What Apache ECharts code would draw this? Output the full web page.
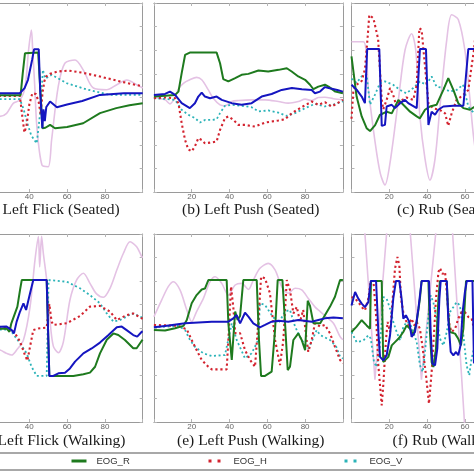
<!DOCTYPE html>
<html><head><meta charset="utf-8">
<script src="https://cdn.jsdelivr.net/npm/echarts@6/dist/echarts.min.js"></script>
<style>
html,body{margin:0;padding:0;background:#fff;overflow:hidden;width:474px;height:474px;position:relative}
#c{position:absolute;left:-60px;top:0;width:660px;height:474px}
</style>
</head><body><div id="c"></div>
<script>
// ---------- DATA ----------
const titles = ['(a) Left Flick (Seated)','(b) Left Push (Seated)','(c) Rub (Seated)',
                '(d) Left Flick (Walking)','(e) Left Push (Walking)','(f) Rub (Walking)'];
const xTickLabels = [20, 40, 60, 80];
const legendNames = ['EOG_R', 'EOG_H', 'EOG_V'];

// (a) Left Flick (Seated)
const aR = [[0,0.1],[35.4,0.1],[36.5,1.0],[37.7,1.87],[44.7,1.9],[45.5,0.8],[47,-1.3],[48.5,-1.28],[51,-1.16],[53.6,-1.3],[60,-1.25],[68.5,-1.09],[77.4,-0.66],[86,-0.45],[93,-0.33],[100,-0.24]];
const aL = [[0,0.18],[35,0.18],[35.5,0.1],[37.5,0.4],[39.3,0.75],[41.5,1.6],[42.5,2.04],[45,2.04],[45.8,0.2],[46.9,-1.3],[47.5,-0.5],[48.2,-1.0],[49,-0.4],[51,-0.17],[54.6,-0.41],[60,-0.3],[68,-0.15],[77.4,0.11],[90,0.18],[100,0.18]];
const aH = [[0,0.07],[35,0.07],[36,-0.6],[37.4,-1.48],[38.5,-1.2],[40,-0.3],[41.6,0.18],[43.5,0.15],[45,-0.2],[46,-0.7],[47,0.2],[48,0.7],[49,0.89],[51,1.0],[55,1.1],[60.8,1.14],[68,1.05],[77.4,0.89],[88,0.68],[100,0.47]];
const aV = [[0,-0.07],[35,-0.07],[37,-0.5],[39,-1.1],[41,-1.6],[43.9,-1.94],[45,-1.2],[46,-0.4],[47.2,1.17],[48.5,0.8],[51.8,0.96],[60,0.6],[70,0.35],[82.7,0.11],[100,0.11]];
const aP = [[0,-0.2],[10,0],[20,-0.6],[24.5,-0.8],[28,-0.67],[31.6,-0.24],[35.1,-0.1],[37.8,0.46],[39.6,2.0],[41.1,2.86],[41.8,2.0],[42.9,0.46],[44,-1.23],[46.7,-2.86],[50,-2.93],[51.8,-1.8],[55.3,0.46],[58.8,1.45],[64.2,1.59],[68.5,1.17],[73.9,0.4],[80.9,0.33],[86.3,0.54],[91.6,0.74],[96.9,0.54],[100,0.4]];

// (b) Left Push (Seated)
const bR = [[0,0.04],[5.9,0.07],[11.2,0.11],[13,0.25],[14.7,1.03],[16.5,1.8],[19,1.9],[33.2,1.9],[35,1.45],[36.7,0.78],[39.4,0.68],[43,0.82],[46.4,0.96],[50,1.0],[55.3,1.14],[60.5,1.1],[66,1.17],[70.3,1.24],[72.9,1.1],[76.4,0.89],[80,0.75],[82.6,0.54],[84.4,0.35],[87,0.46],[90.5,0.54],[92.4,0.46],[96,0.25],[100,0.18]];
const bL = [[0,0.11],[5.9,0.15],[8.5,0.25],[11.2,0.11],[14.7,-0.24],[19,-0.45],[21.7,-0.24],[23.5,0.04],[25.3,0.21],[27,0.04],[29.7,-0.03],[33.2,0.04],[35.9,-0.1],[41.2,-0.24],[46.4,-0.31],[51.7,-0.24],[57,0.04],[62.3,0.15],[67.6,0.32],[73,0.4],[78.3,0.35],[83.5,0.32],[85.2,0.18],[87.9,0.25],[90.5,0.44],[93,0.39],[97,0.32],[100,0.25]];
const bH = [[0,-0.03],[5.9,0],[11.2,-0.03],[13,-0.24],[14.7,-1.09],[16.5,-1.8],[18.2,-2.2],[20,-2.28],[21.7,-2.07],[23.5,-1.72],[25.3,-1.8],[27,-1.94],[30.6,-1.9],[33.2,-1.86],[35,-1.37],[37.6,-0.87],[39.4,-0.8],[42,-0.94],[44.7,-1.16],[48.2,-1.16],[53.5,-1.23],[58.8,-1.06],[65.9,-0.97],[69.4,-0.92],[73,-0.66],[78.2,-0.41],[83.5,-0.17],[87,-0.31],[90.5,-0.2],[94,-0.38],[97,-0.25],[100,-0.1]];
const bV = [[0,-0.03],[5.9,-0.06],[11.2,-0.1],[14.7,-0.52],[18.2,-0.73],[21.7,-0.87],[24.4,-1.06],[27,-0.95],[30.6,-0.95],[33.2,-0.92],[35,-0.66],[37.6,-0.35],[41.2,-0.31],[46.4,-0.35],[51.7,-0.41],[55.3,-0.59],[60.5,-0.55],[65.9,-0.64],[70.3,-0.78],[74.7,-0.66],[80,-0.45],[85.2,-0.27],[90.5,-0.38],[95,-0.3],[100,-0.16]];
const bP = [[0,0],[5.9,-0.1],[8.5,-0.27],[11.2,0],[12.9,0.35],[15.6,0.6],[19,0.75],[22.6,0.85],[25.3,0.75],[28.8,0.32],[31.4,-0.03],[35,-0.31],[37.6,-0.35],[41.2,-0.17],[44.7,-0.13],[51.7,-0.1],[58.8,-0.1],[65.9,-0.17],[71.1,-0.24],[76.4,-0.17],[80,-0.07],[83.5,-0.13],[87,0],[90.5,0.01],[95,-0.05],[100,-0.1]];

// (c) Rub (Seated)
const cR = [[0,1.74],[2.7,0.04],[5.4,-0.8],[8,-1.3],[9.8,-1.42],[12.5,-1.17],[15,-0.74],[18.6,-0.6],[21.3,-0.67],[24.8,-0.1],[27.4,-0.31],[31,-0.6],[34.5,-0.8],[36.2,-0.88],[38.9,-0.52],[41.5,-0.38],[45,-0.31],[48.6,0.32],[51.2,0.82],[53.9,0.32],[56.5,-0.24],[59.2,-0.45],[62.7,-0.52],[64.8,-0.41],[70,-0.3],[75,-0.6],[80,-0.2],[85,0.4],[90,-0.3],[95,-0.5],[100,-0.4]];
const cL = [[0,0.54],[2.7,0.33],[5.4,0.04],[7.1,-0.24],[8.3,2.05],[14.7,2.05],[16,-1.2],[17.7,-1.16],[18.6,-0.38],[21.3,-0.31],[23,-0.45],[25.7,-0.24],[28.3,-0.1],[30,-0.24],[34.5,-0.45],[36.2,2.05],[39.4,2.05],[40.7,-1.16],[42.4,-0.6],[44.2,-0.73],[45.9,-0.52],[48.6,-0.38],[53.9,-0.35],[59.2,-0.35],[61.8,2.05],[66,2.05],[67.5,-1.0],[70,-0.5],[75,-0.4],[84,-0.4],[85,2.05],[87,2.05],[88.5,-1],[95,-0.4],[100,-0.3]];
const cH = [[0,-0.9],[1,0.3],[2.7,0.54],[5.4,0.7],[7.1,1.2],[8.5,2.5],[9.4,3.49],[11.6,3.35],[14.1,2.47],[16,-0.1],[16.8,-0.5],[18.6,-0.1],[20.4,0.4],[22.1,0.1],[23.8,-0.38],[25.5,-0.17],[29,0],[32.7,-0.1],[34.5,0.54],[35.9,2.93],[37.1,2.86],[38.9,1.31],[40.7,-0.25],[43.3,-0.46],[46.9,-0.53],[49.5,-0.67],[51.2,-1.2],[53,-0.67],[55.6,-0.1],[59.2,0.11],[61.8,0.32],[63.5,1.3],[64.8,2.0],[66,3.0],[68,3.2],[70,2.2],[72,-0.3],[76,-0.5],[80,-0.3],[85,0.3],[88,2.8],[91,2.5],[93,0],[100,-0.3]];
const cV = [[0,0.8],[2.7,0.62],[5.4,0.9],[8,0.96],[9.8,-0.3],[12.5,0.13],[15,0.6],[17.7,0.68],[22,0.54],[25.7,0.32],[29,0.18],[32.7,0.4],[36.2,0.68],[39.4,0.54],[42.4,0.89],[45,0.46],[48.6,0.4],[52,0.25],[55.6,0.32],[59,0.54],[61.8,-0.38],[64.8,-0.67],[70,0.3],[75,0.6],[80,0.4],[85,0.8],[90,0.2],[95,0.5],[100,0.3]];
const cP = [[0,2.36],[6.3,2.36],[9,0.3],[12.5,-1.9],[15.2,-3.2],[17.7,-3.7],[20.5,-2.7],[24.8,-0.1],[28.3,2.0],[31.8,2.7],[34,2.0],[36.2,-0.8],[38.9,-2.6],[41.5,-3.5],[44.2,-2.6],[46.9,-0.3],[50.4,2.44],[53,3.5],[56.5,3.3],[60,2.0],[62.6,0],[64.8,-1.8],[68,-3.3],[71,-3.6],[75,-2],[79,1.5],[83,3],[87,2],[91,-1],[95,-3],[100,-2]];

// (d) Left Flick (Walking)
const dR = [[0,-0.1],[28,-0.02],[29.5,-0.16],[30.5,0.2],[33.7,0.91],[35.1,1.62],[36,2.04],[49.2,2.04],[50.6,-2.04],[63.3,-2.04],[68.6,-1.97],[72.1,-1.9],[74.8,-1.65],[77.4,-1.08],[81,-0.5],[84.5,-0.23],[87.1,-0.3],[90.6,-0.51],[95,-0.86],[96.8,-0.86],[99.5,-0.54],[100,-0.5]];
const dL = [[0,-0.02],[28,0.06],[30.7,-0.09],[31.9,-0.23],[33.3,0.27],[35.1,0.7],[36.9,1.05],[38.3,0.77],[40.4,1.48],[42.1,2.04],[49.2,2.04],[50.6,-2.04],[52.7,-2.04],[55.4,-1.93],[58.9,-1.9],[61.5,-1.72],[64.2,-1.43],[68.6,-1.08],[73,-0.87],[77.4,-0.62],[81.9,-0.3],[86.3,0.03],[88.9,0.06],[91.5,-0.09],[95,-0.3],[97.1,-0.37],[99.5,-0.16],[100,-0.14]];
const dH = [[0,-0.06],[29.8,0],[32.5,-0.23],[35.1,-0.58],[37.7,-1.15],[39,-1.39],[40.4,-0.79],[42.1,-0.09],[44.7,-0.02],[49.2,0.02],[50.6,1.02],[51.8,0.27],[52.7,0.13],[59.8,0.2],[66.8,0.51],[72.1,0.91],[77.4,0.94],[82.7,0.7],[86.3,0.34],[91.5,0.55],[95,0.62],[99.5,0.41],[100,0.4]];
const dV = [[0,-0.11],[29.8,-0.06],[32.5,-0.37],[35.1,-0.65],[38.6,-1.08],[41.2,-1.65],[43.9,-2.04],[49.2,-2.04],[50.2,2.04],[59.8,1.97],[66.8,1.69],[72.1,1.4],[77.4,1.05],[81,0.62],[84.5,0.27],[88,0.34],[91.5,0.48],[94.2,0.62],[96.8,0.55],[99.5,0.45],[100,0.45]];
const dP = [[0,-0.6],[20,-0.9],[24.5,-0.94],[28,-1.08],[30.7,-1.15],[33.3,-0.94],[36.9,-0.51],[40.4,0.9],[43,2.89],[44.8,3.89],[45.5,2.6],[46.5,3.9],[47.4,3.2],[49.2,2.04],[50.9,0.37],[52.7,-0.77],[55.4,-1.05],[58,-0.6],[61.5,1.19],[65,2.04],[68.6,2.33],[72.1,1.9],[75.6,1.45],[79.2,1.31],[82.7,1.69],[86.3,2.47],[89.8,3.18],[93.3,3.67],[96.8,3.46],[99.5,3.04],[100,3.0]];

// (e) Left Push (Walking)
const eR = [[0,-0.09],[5.9,-0.11],[11.2,-0.01],[15.6,0.09],[17.4,0.34],[20,1.05],[22.6,1.4],[25.3,1.64],[27,1.68],[28.8,2.04],[38.5,2.04],[39.4,0.2],[41.2,-1.36],[43,0.7],[44.3,0.34],[45.6,0.51],[47.3,2.04],[54.4,2.04],[55.6,-0.51],[56.7,-2.04],[58.8,-2.04],[62.3,-1.86],[64.1,-0.09],[65.5,2.04],[68,2.04],[69.4,0.2],[70.8,-1.79],[72,-1.65],[73.8,-0.51],[76.4,-0.23],[78.2,-0.51],[80,-0.94],[81.4,1.16],[82.6,0.94],[84.4,0.2],[88,0.2],[93.2,0.91],[95.8,1.33],[98.5,2.04],[100,2.04]];
const eL = [[0,0.03],[5.9,0.09],[16.5,0.2],[30.6,0.27],[39.4,0.27],[42,0.41],[43.8,0.55],[45.6,0.2],[48.2,0.65],[50,0.48],[52.6,0.2],[56.1,0.03],[58.8,0.13],[62.3,0.27],[65.9,0.31],[71.1,0.27],[76.4,0.34],[83.5,0.27],[87,0.34],[90.5,0.41],[95,0.45],[100,0.42]];
const eH = [[0,0.13],[13,0.09],[17.4,-0.06],[20,-0.51],[22.6,-0.94],[25.3,-1.36],[28.8,-1.65],[30.6,-1.76],[38.5,-1.76],[39.4,-0.51],[40.8,1.76],[42,0.9],[43,-0.22],[45.6,-0.22],[48.2,-0.94],[50.9,-1.36],[53.5,-1.65],[55.2,0.2],[56.7,2.18],[58.8,2.11],[61.4,1.48],[64.1,-0.51],[66.7,-1.58],[68.5,-0.51],[70.3,2.04],[72,1.62],[73.8,0.62],[75.6,0.9],[77.3,0.27],[79,0.77],[80.8,-0.51],[81.7,-1.01],[83.5,-0.51],[85.2,0.2],[88,0.06],[90.5,0.13],[93.2,-0.23],[95.8,-0.8],[98.5,-1.36],[100,-1.5]];
const eV = [[0,0.03],[13,0.09],[16.5,-0.09],[19.1,-0.51],[21.7,-0.8],[26.2,-1.08],[30.6,-1.19],[37.6,-1.15],[41.2,0.2],[43.8,-0.51],[48.2,-1.29],[51.7,-1.08],[55.2,-0.51],[56.1,1.05],[58.8,0.98],[62.3,0.55],[65.9,0.2],[69.4,0.7],[72,0.77],[74.7,0.06],[78.2,-0.51],[80,-0.72],[81.7,-0.86],[83.5,-0.58],[86.1,-0.09],[88,-0.3],[93.2,-0.51],[96.5,-0.8],[98.5,-1.22],[100,-1.3]];
const eP = [[0,0.48],[4.1,1.19],[7.6,1.76],[10.3,1.97],[13.8,1.62],[17.4,0.77],[20,0.27],[22.6,0.7],[26.2,1.26],[29.7,1.97],[32.4,2.18],[35.9,1.9],[39.4,1.4],[43,1.83],[46.4,1.9],[50,1.64],[52.6,2.04],[56.1,2.54],[60.5,2.75],[64.1,2.47],[67.6,1.76],[71.1,1.48],[74.7,1.69],[78.2,1.62],[81.7,1.26],[85.2,0.9],[88,0.7],[91.5,0.45],[95,0.2],[98.5,-0.37],[100,-0.5]];

// (f) Rub (Walking)
const fR = [[0,-0.17],[2.7,0.06],[5.4,0.33],[8,0.11],[9.8,-0.03],[10.3,2.0],[16,2.0],[16.8,-1.45],[17.7,-1.52],[19.5,-1.23],[21.3,-0.74],[23,-0.6],[24.8,-0.46],[27.4,-0.17],[29.2,0.11],[31,-0.03],[32.7,-0.31],[34.5,0.26],[36.2,1.25],[37.1,2.0],[40.7,2.0],[41.5,-0.17],[42.4,-1.45],[43.3,-1.66],[44.7,-0.88],[46,1.25],[46.8,2.0],[50.4,2.0],[51.2,0.54],[52.1,-0.17],[54.8,-0.24],[56.5,-0.46],[57.9,-0.74],[59.2,-0.03],[60.6,2.0],[67,2.0],[68,-1.3],[72,-0.5],[76,2.0],[80,2.0],[81,-1.5],[85,-0.6],[88,2.0],[92,2.0],[93,-1.2],[97,-0.4],[100,0.1]];
const fL = [[0,0.96],[1.9,1.53],[3.6,1.25],[5.4,1.04],[7.1,0.89],[8.9,1.1],[10.2,2.0],[13,2.0],[14.2,-0.17],[15.1,-1.23],[16.8,-1.38],[18.6,-1.16],[20.4,-0.31],[22.1,1.25],[23.5,2.0],[25.3,2.0],[26.5,1.25],[27.4,0.4],[28.8,0.54],[30.6,0.26],[31.8,-0.38],[33.6,-0.17],[35.4,0.82],[37.1,2.0],[41,2.0],[41.9,-0.17],[42.8,-1.52],[44.2,-1.59],[45.4,-0.88],[46.5,1.25],[47.2,2.0],[50.4,2.0],[51.2,0.4],[52.5,-1.02],[53.9,-1.16],[55.3,-1.02],[56.5,-1.16],[57.7,-0.74],[58.8,0.68],[60,1.53],[61,2.0],[64,2.0],[64.8,-1.5],[67,-1.2],[70,-0.5],[74,1.0],[76,2.0],[79,2.0],[80.5,-1.4],[84,-0.8],[88,2.0],[91,2.0],[92.5,-1.3],[96,-0.6],[100,0.5]];
const fH = [[0,1.32],[1.9,1.25],[3.6,1.1],[5.4,0.89],[7.1,0.75],[8.9,1.25],[10.2,2.0],[11.6,2.0],[13,0.54],[14.2,-1.59],[16,-3.29],[16.8,-2.44],[18.3,-0.45],[19.1,0.26],[20.4,-0.17],[21.8,1.25],[23,2.52],[24.3,3.02],[25.3,2.67],[26.2,1.25],[27.4,0.68],[28.3,0.4],[30,0.11],[31.8,0.4],[33.2,0.11],[34.5,0.26],[36.2,-0.03],[37.7,-0.88],[39.4,-2.01],[41,-3.22],[42.4,-1.87],[43.7,-0.17],[44.7,1.25],[46,2.38],[46.8,2.55],[48.2,2.3],[49.5,2.38],[50.7,1.25],[51.8,0.11],[53,-0.17],[54.8,-0.03],[56.5,0.4],[58.3,0.68],[60,0.68],[61.8,0.47],[63.6,0.4],[64.8,-0.03],[67,1.5],[69,3.0],[71,2.0],[73,-0.5],[76,-2.5],[78,-0.5],[81,2.5],[84,1.0],[88,-1.5],[91,-3.0],[94,0],[97,1.0],[100,0.5]];
const fV = [[0,-0.17],[2.7,-0.6],[6.3,-0.53],[8.9,-0.31],[10.2,-0.45],[11.9,-1.45],[13.3,-1.66],[14.7,-1.02],[16,0.26],[16.8,1.32],[18.6,1.25],[20.4,0.82],[22.1,0.26],[23.9,-0.17],[25.7,-0.53],[27.4,0.04],[29.2,0.26],[31,0.18],[32.7,-0.17],[34.5,-0.6],[36.2,-1.59],[37.7,-1.87],[38.9,-1.02],[40.7,0.54],[41.9,1.39],[43.3,1.1],[45,0.4],[46.8,-0.45],[48.6,-0.74],[50.4,-0.17],[52.1,0.68],[53.9,0.89],[55.6,1.1],[57.4,0.96],[59.2,-0.31],[60.9,-1.59],[62.3,-2.01],[63.5,-1.31],[64.8,-0.88],[68,0.5],[72,1.0],[76,-0.5],[80,-1.8],[84,0.3],[88,1.0],[92,-0.8],[96,-1.5],[100,0]];
const fP = [[0,9],[2,10],[12.4,-2.2],[25,10.5],[37,-2.2],[50,8.5],[66,-12],[78,10],[90,-10],[100,5]];

// ---------- BUILD ----------
const panelData = [
  {R:aR, L:aL, H:aH, V:aV, P:aP},
  {R:bR, L:bL, H:bH, V:bV, P:bP},
  {R:cR, L:cL, H:cH, V:cV, P:cP},
  {R:dR, L:dL, H:dH, V:dV, P:dP},
  {R:eR, L:eL, H:eH, V:eV, P:eP},
  {R:fR, L:fL, H:fH, V:fV, P:fP}
];
const OFF = 60;
const colLeft = [-46.3, 153.9, 351.5];
const rowTop = [3, 234];
const rowH = [189, 188];
const W = 189;
const styles = [
  {key:'P', name:'IMU',   color:'#e4c2e4', width:1.6, dash:'solid', smooth:0.3},
  {key:'V', name:'EOG_V', color:'#2bb3b8', width:1.8, dash:[2,2.6]},
  {key:'H', name:'EOG_H', color:'#d3232f', width:2.1, dash:[2.2,2.8]},
  {key:'R', name:'EOG_R', color:'#1e7a1e', width:2, dash:'solid'},
  {key:'L', name:'EOG_L', color:'#1515c0', width:2, dash:'solid'}
];
const axisCol = '#9a9a9a';
const grid = [], xAxis = [], yAxis = [], series = [], title = [];
for (let i = 0; i < 6; i++) {
  const col = i % 3, row = Math.floor(i / 3);
  const left = colLeft[col] + OFF, top = rowTop[row], h = rowH[row];
  grid.push({left: left, top: top, width: W, height: h, containLabel: false});
  const tick = {show: true, inside: true, length: 3, lineStyle: {color: '#b5b5b5'}};
  const line = {show: true, onZero: false, lineStyle: {color: axisCol, width: 1}};
  xAxis.push({type:'value', gridIndex:i, min:0, max:100, interval:20, position:'bottom',
    axisLine: line, axisTick: tick, splitLine:{show:false},
    axisLabel:{show:true, margin:1, fontSize:8, color:'#666', fontFamily:'Liberation Sans',
      formatter: v => xTickLabels.includes(v) ? String(v) : ''}});
  xAxis.push({type:'value', gridIndex:i, min:0, max:100, interval:20, position:'top',
    axisLine: line, axisTick: tick, splitLine:{show:false}, axisLabel:{show:false}});
  yAxis.push({type:'value', gridIndex:i, min:-4, max:4, interval:1, position:'left',
    axisLine: line, axisTick: tick, splitLine:{show:false}, axisLabel:{show:false}});
  yAxis.push({type:'value', gridIndex:i, min:-4, max:4, interval:1, position:'right',
    axisLine: line, axisTick: tick, splitLine:{show:false}, axisLabel:{show:false}});
  styles.forEach(s => {
    series.push({
      type:'line', name:s.name, xAxisIndex:2*i, yAxisIndex:2*i,
      data: panelData[i][s.key], showSymbol:false, symbol:'none',
      smooth: (s.smooth && i !== 5) ? s.smooth : false,
      clip:true, silent:true,
      lineStyle:{color:s.color, width:s.width, type:s.dash},
      itemStyle:{color:s.color}
    });
  });
  title.push({text: titles[i], left: left + W/2 + 2.3, top: row === 0 ? 202 : 433,
    textAlign:'center', padding:0,
    textStyle:{fontFamily:'Liberation Serif', fontSize:15.5, fontWeight:'normal', color:'#1a1a1a'}});
}
const legendX = [70, 207, 343];
const legendDash = ['solid', [3,6], [3,6]];
const legend = legendNames.map((n, k) => ({
  data:[n], left: legendX[k] + OFF, top: 456, padding:0, itemWidth:15, itemHeight:9,
  itemStyle:{opacity:0},
  lineStyle:{width:3, type:legendDash[k]},
  textStyle:{fontSize:9.5, color:'#333', fontFamily:'Liberation Sans', padding:[0,0,0,5]}
}));
const chart = echarts.init(document.getElementById('c'), null, {renderer:'canvas'});
chart.setOption({
  animation:false, backgroundColor:'#fff',
  title, grid, xAxis, yAxis, series, legend,
  graphic:[{type:'rect', shape:{x:0, y:453, width:660, height:17},
    style:{fill:'none', stroke:'#8c8c8c', lineWidth:1.5}, silent:true}]
});
</script></body></html>
